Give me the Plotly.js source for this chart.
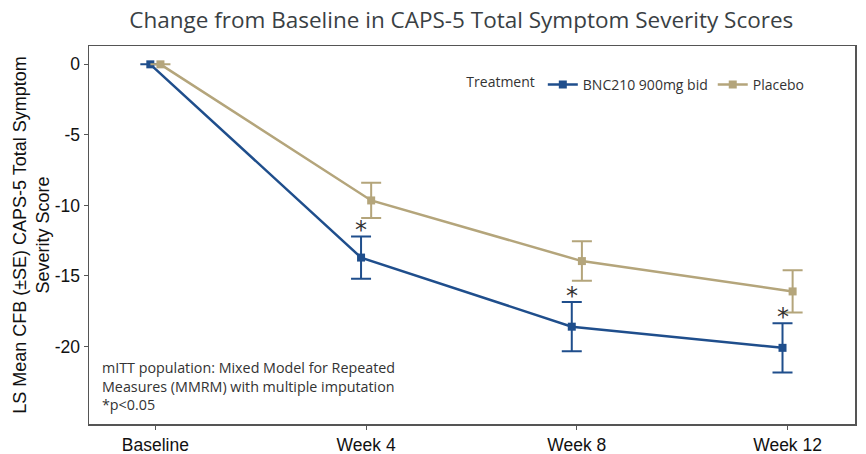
<!DOCTYPE html>
<html><head><meta charset="utf-8">
<script src="https://cdn.plot.ly/plotly-3.0.1.min.js"></script>
<style>html,body{margin:0;padding:0;background:#fff}#chart{width:866px;height:454px}</style>
</head><body><div id="chart"></div>
<script>
const categories = ["Baseline", "Week 4", "Week 8", "Week 12"];
const bncMean = [0, -13.7, -18.6, -20.1];
const bncSE = [0, 1.5, 1.75, 1.75];
const placeboMean = [0, -9.65, -13.95, -16.1];
const placeboSE = [0, 1.25, 1.4, 1.5];
const significant = [false, true, true, true];

const dodge = 0.024;
const idx = categories.map((c, i) => i);
const xBnc = idx.map(i => i - dodge);
const xPla = idx.map(i => i + dodge);

const blue = "#1f4e8c", gold = "#b4a57b";

const traces = [
  {x: xBnc, y: bncMean, name: "BNC210 900mg bid", type: "scatter", mode: "lines+markers",
   line: {color: blue, width: 2.5}, marker: {symbol: "square", size: 8, color: blue},
   error_y: {type: "data", array: bncSE, visible: true, color: blue, thickness: 2, width: 10}},
  {x: xPla, y: placeboMean, name: "Placebo", type: "scatter", mode: "lines+markers",
   line: {color: gold, width: 2.5}, marker: {symbol: "square", size: 8, color: gold},
   error_y: {type: "data", array: placeboSE, visible: true, color: gold, thickness: 2, width: 10}}
];

const annotations = [];
significant.forEach((s, i) => {
  if (s) annotations.push({x: xBnc[i], y: bncMean[i] + bncSE[i], xref: "x", yref: "y",
    text: "*", showarrow: false, yanchor: "bottom", yshift: -10,
    font: {family: "DejaVu Sans", size: 24, color: "#333"}});
});
annotations.push({xref: "paper", yref: "paper", x: 0.015, y: 0.022, xanchor: "left", yanchor: "bottom",
  align: "left", showarrow: false,
  text: "mITT population: Mixed Model for Repeated<br>Measures (MMRM) with multiple imputation<br>*p<0.05",
  font: {family: "Open Sans", size: 14.3, color: "#333"}});

const layout = {
  width: 866, height: 454,
  margin: {l: 89, r: 11, t: 46, b: 30},
  paper_bgcolor: "#fff", plot_bgcolor: "#fff",
  title: {text: "Change from Baseline in CAPS-5 Total Symptom Severity Scores",
    font: {family: "Open Sans", size: 22.5, color: "#3a3f44"}, xref: "paper", x: 0.486, xanchor: "center", y: 0.955, yanchor: "middle"},
  xaxis: {range: [-0.315, 3.32], tickvals: idx, ticktext: categories, showgrid: false, zeroline: false,
    showline: true, linecolor: "#555", linewidth: 1.5, mirror: true, ticks: "outside", ticklen: 4, tickcolor: "#555",
    tickfont: {family: "Arial", size: 17.5, color: "#111"}},
  yaxis: {range: [-25.5, 1.3], tickvals: [0, -5, -10, -15, -20], ticktext: ["0", "-5", "-10", "-15", "-20"],
    showgrid: false, zeroline: false, showline: true, linecolor: "#555", linewidth: 1.5, mirror: true,
    ticks: "outside", ticklen: 4, tickcolor: "#555",
    tickfont: {family: "Arial", size: 17.5, color: "#111"},
    title: {text: "LS Mean CFB (±SE) CAPS-5 Total Symptom<br>Severity Score", standoff: 0,
      font: {family: "Arial", size: 18, color: "#111"}}},
  legend: {orientation: "h", x: 0.49, xanchor: "left", y: 0.897, yanchor: "middle",
    bgcolor: "rgba(0,0,0,0)", font: {family: "Open Sans", size: 14, color: "#333"},
    title: {text: "Treatment", font: {family: "Open Sans", size: 14, color: "#333"}},
    itemwidth: 30},
  annotations: annotations,
  showlegend: true
};

Plotly.newPlot("chart", traces, layout, {displayModeBar: false, staticPlot: true});
</script></body></html>
